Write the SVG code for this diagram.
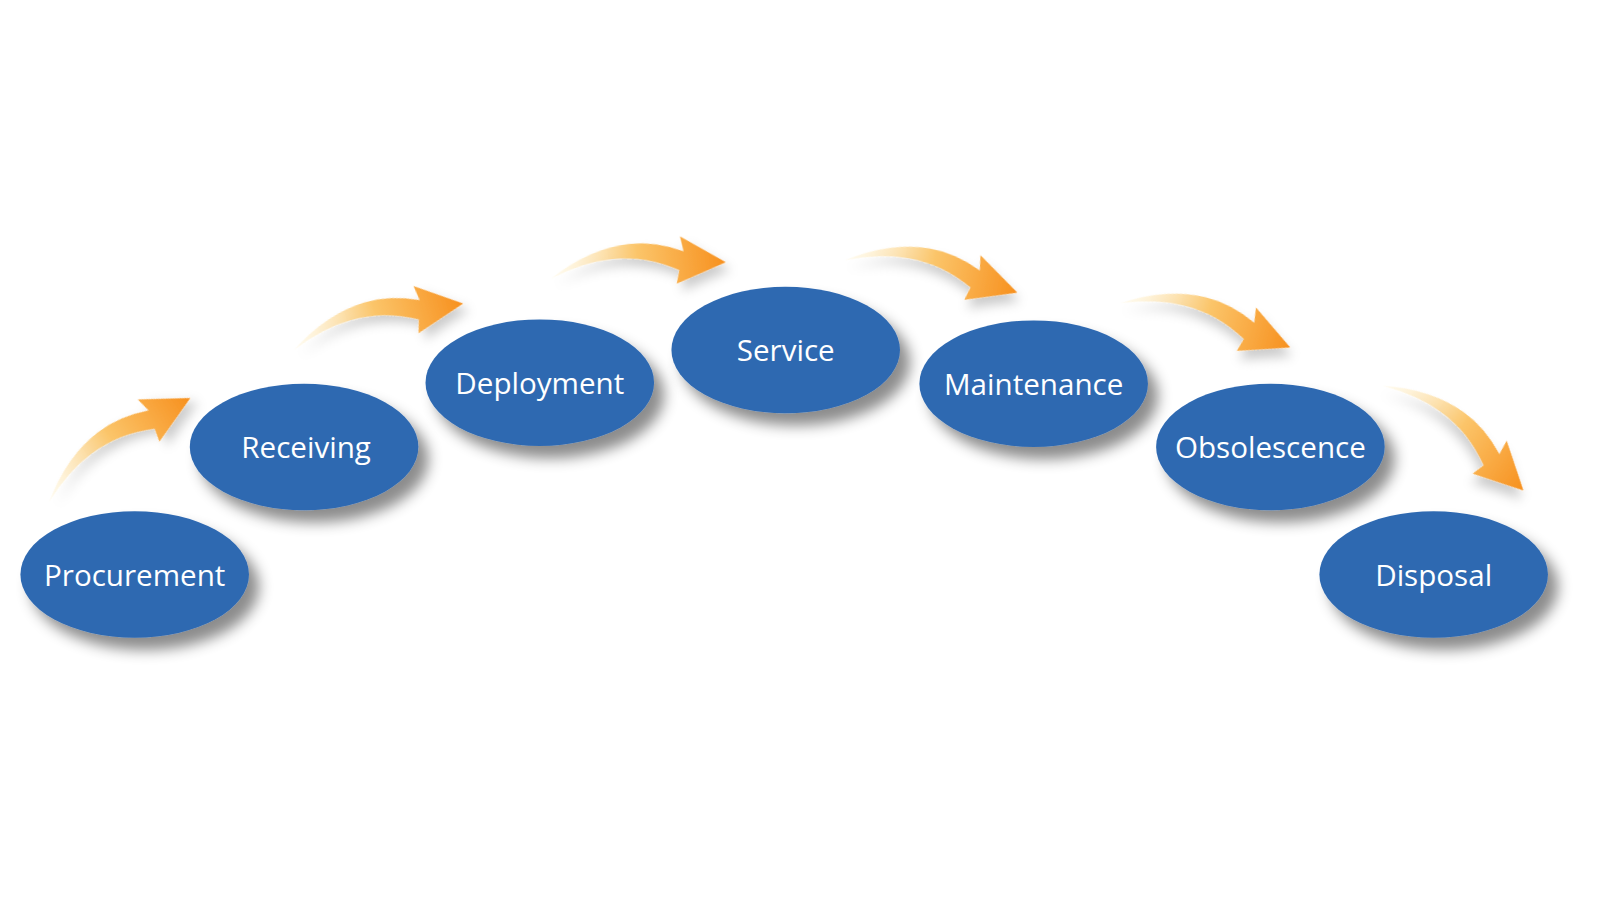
<svg xmlns="http://www.w3.org/2000/svg" width="1600" height="900" viewBox="0 0 1600 900">
<style>
.node ellipse{fill:#2f69b1;filter:url(#sh)}
.node text{fill:#fff;font-family:"Open Sans","DejaVu Sans",sans-serif;font-size:29px;text-anchor:middle;dominant-baseline:central}
.arr{fill:url(#og);filter:url(#ash)}
</style>
<defs>
<filter id="sh" x="-30%" y="-30%" width="170%" height="180%"><feDropShadow dx="10" dy="12" stdDeviation="7" flood-color="#000" flood-opacity="0.45"/></filter>
<filter id="ash" x="-20%" y="-40%" width="150%" height="200%"><feDropShadow dx="4" dy="8" stdDeviation="5" flood-color="#000" flood-opacity="0.2"/></filter>
<linearGradient id="og" x1="0" y1="0" x2="1" y2="0"><stop offset="0" stop-color="#fff4d0" stop-opacity="0.3"/><stop offset="0.5" stop-color="#fbc56a"/><stop offset="1" stop-color="#f7901e"/></linearGradient>
<path id="a" d="M0,0 Q70,-44 132,-13 L130,-28 L172,2 L122,18 L126,5 Q70,-28 0,0 Z"/>
</defs>
<rect width="1600" height="900" fill="#fff"/>
<g transform="scale(1.0204)">
<g id="connectors">
<use href="#a" class="arr" transform="translate(48,492) rotate(-37)"/>
<use href="#a" class="arr" transform="translate(288,343) rotate(-16)"/>
<use href="#a" class="arr" transform="translate(540,273) rotate(-6)"/>
<use href="#a" class="arr" transform="translate(828,255) rotate(10)"/>
<use href="#a" class="arr" transform="translate(1098,297) rotate(14)"/>
<use href="#a" class="arr" transform="translate(1355,378) rotate(36)"/>
</g>
<g id="procurement" class="node"><ellipse cx="132" cy="563" rx="112" ry="62"/><text x="132" y="563">Procurement</text></g>
<g id="receiving" class="node"><ellipse cx="298" cy="438" rx="112" ry="62"/><text x="300" y="438">Receiving</text></g>
<g id="deployment" class="node"><ellipse cx="529" cy="375" rx="112" ry="62"/><text x="529" y="375">Deployment</text></g>
<g id="service" class="node"><ellipse cx="770" cy="343" rx="112" ry="62"/><text x="770" y="343">Service</text></g>
<g id="maintenance" class="node"><ellipse cx="1013" cy="376" rx="112" ry="62"/><text x="1013" y="376">Maintenance</text></g>
<g id="obsolescence" class="node"><ellipse cx="1245" cy="438" rx="112" ry="62"/><text x="1245" y="438">Obsolescence</text></g>
<g id="disposal" class="node"><ellipse cx="1405" cy="563" rx="112" ry="62"/><text x="1405" y="563">Disposal</text></g>
</g>
</svg>
